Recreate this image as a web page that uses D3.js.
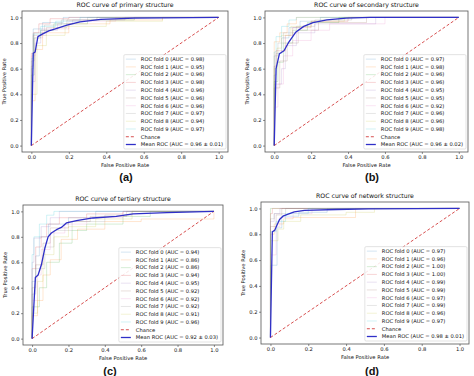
<!DOCTYPE html>
<html>
<head>
<meta charset="utf-8">
<script src="https://cdn.jsdelivr.net/npm/d3@7"></script>
<style>
body { margin: 0; background: #fff; }
text { font-family: "DejaVu Sans", sans-serif; fill: #111; }
</style>
</head>
<body>
<div class="chart"></div>
<script>

// Data
//
var titles = ["ROC curve of primary structure", "ROC curve of secondary structure",
              "ROC curve of tertiary structure", "ROC curve of network structure"];
var panelLabels = ["(a)", "(b)", "(c)", "(d)"];
var tickValues = [0, 0.2, 0.4, 0.6, 0.8, 1.0];
var foldColors = ["#1f77b4", "#ff7f0e", "#2ca02c", "#d62728", "#9467bd",
                  "#8c564b", "#e377c2", "#7f7f7f", "#bcbd22", "#17becf"];

var primaryAuc = ["0.98", "0.95", "0.96", "0.98", "0.96", "0.96", "0.96", "0.97", "0.94", "0.97"];
var secondaryAuc = ["0.97", "0.98", "0.96", "0.96", "0.95", "0.95", "0.92", "0.96", "0.96", "0.98"];
var tertiaryAuc = ["0.94", "0.86", "0.86", "0.94", "0.95", "0.92", "0.92", "0.92", "0.91", "0.96"];
var networkAuc = ["0.97", "0.96", "1.00", "1.00", "0.99", "0.99", "0.97", "0.99", "0.96", "0.97"];
var meanLabels = ["0.96 ± 0.01", "0.96 ± 0.02", "0.92 ± 0.03", "0.98 ± 0.01"];

// fold curves: [fpr, tpr] where tpr jumps (step curves)
var primaryFolds = [
  [[0,0],[0,0.6],[0.01,0.91],[0.06,0.96],[0.17,1],[1,1]],
  [[0,0],[0,0.35],[0.02,0.75],[0.06,0.88],[0.2,0.95],[0.42,0.98],[0.7,1],[1,1]],
  [[0,0],[0,0.55],[0.015,0.84],[0.05,0.9],[0.12,0.95],[0.3,0.98],[0.55,1],[1,1]],
  [[0,0],[0,0.72],[0.01,0.88],[0.04,0.95],[0.1,0.99],[0.2,1],[1,1]],
  [[0,0],[0,0.5],[0.02,0.8],[0.05,0.9],[0.14,0.95],[0.22,0.98],[0.5,1],[1,1]],
  [[0,0],[0,0.62],[0.01,0.86],[0.08,0.92],[0.19,0.98],[0.35,1],[1,1]],
  [[0,0],[0,0.7],[0.02,0.84],[0.06,0.91],[0.2,0.97],[0.45,1],[1,1]],
  [[0,0],[0,0.66],[0.015,0.88],[0.07,0.94],[0.16,0.98],[0.3,1],[1,1]],
  [[0,0],[0,0.4],[0.03,0.78],[0.08,0.86],[0.18,0.93],[0.4,0.97],[0.7,1],[1,1]],
  [[0,0],[0,0.68],[0.01,0.87],[0.05,0.93],[0.13,0.97],[0.26,1],[1,1]]
];
var secondaryFolds = [
  [[0,0],[0,0.55],[0.01,0.72],[0.04,0.84],[0.08,0.92],[0.14,0.97],[0.25,1],[1,1]],
  [[0,0],[0,0.81],[0.03,0.88],[0.07,0.95],[0.12,1],[1,1]],
  [[0,0],[0,0.5],[0.02,0.65],[0.05,0.8],[0.1,0.9],[0.18,0.96],[0.35,1],[1,1]],
  [[0,0],[0,0.62],[0.01,0.74],[0.06,0.86],[0.1,0.92],[0.2,0.97],[0.4,1],[1,1]],
  [[0,0],[0,0.48],[0.04,0.6],[0.06,0.78],[0.12,0.88],[0.22,0.95],[0.55,1],[1,1]],
  [[0,0],[0,0.45],[0.03,0.66],[0.07,0.8],[0.13,0.9],[0.24,0.96],[0.5,1],[1,1]],
  [[0,0],[0,0.3],[0.02,0.48],[0.05,0.7],[0.1,0.82],[0.2,0.9],[0.3,0.95],[0.6,1],[1,1]],
  [[0,0],[0,0.7],[0.02,0.8],[0.05,0.88],[0.12,0.93],[0.22,0.98],[0.42,1],[1,1]],
  [[0,0],[0,0.6],[0.015,0.76],[0.04,0.86],[0.09,0.93],[0.2,0.97],[0.38,1],[1,1]],
  [[0,0],[0,0.73],[0.01,0.85],[0.04,0.93],[0.08,0.98],[0.12,1],[1,1]]
];
var tertiaryFolds = [
  [[0,0],[0,0.45],[0.02,0.65],[0.04,0.8],[0.09,0.9],[0.2,0.95],[0.35,1],[1,1]],
  [[0,0],[0,0.18],[0.03,0.3],[0.06,0.5],[0.1,0.62],[0.16,0.78],[0.25,0.86],[0.4,0.92],[0.6,0.94],[1,1]],
  [[0,0],[0,0.25],[0.04,0.4],[0.08,0.6],[0.15,0.75],[0.22,0.85],[0.3,0.9],[0.5,0.96],[0.65,1],[1,1]],
  [[0,0],[0,0.55],[0.02,0.72],[0.05,0.8],[0.08,0.9],[0.15,0.95],[0.3,0.98],[0.5,1],[1,1]],
  [[0,0],[0,0.6],[0.01,0.79],[0.05,0.88],[0.1,0.95],[0.15,1],[1,1]],
  [[0,0],[0,0.4],[0.02,0.58],[0.06,0.75],[0.1,0.87],[0.2,0.92],[0.32,0.96],[0.52,1],[1,1]],
  [[0,0],[0,0.3],[0.03,0.5],[0.05,0.7],[0.1,0.83],[0.18,0.9],[0.3,0.95],[0.5,1],[1,1]],
  [[0,0],[0,0.35],[0.02,0.55],[0.07,0.72],[0.12,0.85],[0.22,0.92],[0.4,0.97],[0.55,1],[1,1]],
  [[0,0],[0,0.2],[0.03,0.45],[0.06,0.66],[0.12,0.8],[0.2,0.88],[0.35,0.94],[0.55,1],[1,1]],
  [[0,0],[0,0.66],[0.01,0.8],[0.04,0.9],[0.08,0.97],[0.12,1],[1,1]]
];
var networkFolds = [
  [[0,0],[0,0.56],[0.035,0.85],[0.06,0.94],[0.15,0.97],[0.3,1],[1,1]],
  [[0,0],[0,0.8],[0.02,0.88],[0.07,0.92],[0.12,0.93],[0.45,1],[1,1]],
  [[0,0],[0,1],[1,1]],
  [[0,0],[0,0.96],[0.01,1],[1,1]],
  [[0,0],[0,0.9],[0.02,0.96],[0.05,1],[1,1]],
  [[0,0],[0,0.86],[0.03,0.95],[0.06,1],[1,1]],
  [[0,0],[0,0.64],[0.03,0.86],[0.05,0.93],[0.12,0.96],[0.22,1],[1,1]],
  [[0,0],[0,0.92],[0.02,0.96],[0.08,1],[1,1]],
  [[0,0],[0,0.75],[0.04,0.84],[0.07,0.9],[0.16,0.95],[0.4,0.97],[0.55,1],[1,1]],
  [[0,0],[0,0.82],[0.03,0.9],[0.08,0.96],[0.2,1],[1,1]]
];

// mean ROC curves [fpr, tpr]
var primaryMean = [[0,0],[0.01,0.72],[0.02,0.73],[0.035,0.85],[0.058,0.87],[0.093,0.895],[0.128,0.91],
                   [0.19,0.94],[0.26,0.965],[0.37,0.985],[0.55,0.995],[1,1]];
var secondaryMean = [[0,0],[0.01,0.6],[0.028,0.716],[0.053,0.74],[0.08,0.81],[0.116,0.884],[0.16,0.93],
                     [0.21,0.96],[0.285,0.98],[0.39,0.995],[0.52,1],[1,1]];
var tertiaryMean = [[0,0],[0.018,0.48],[0.033,0.5],[0.051,0.58],[0.07,0.71],[0.088,0.8],[0.106,0.83],
                    [0.134,0.856],[0.161,0.874],[0.19,0.91],[0.244,0.927],[0.335,0.948],[0.463,0.96],
                    [0.555,0.98],[0.74,0.99],[1,1]];
var networkMean = [[0,0],[0.01,0.82],[0.022,0.83],[0.036,0.876],[0.048,0.915],[0.066,0.94],[0.09,0.954],
                   [0.126,0.974],[0.18,0.985],[0.35,0.992],[0.52,0.997],[1,1]];
var chance = [[0,0],[1,1]];

var foldSets = [primaryFolds, secondaryFolds, tertiaryFolds, networkFolds];
var aucSets = [primaryAuc, secondaryAuc, tertiaryAuc, networkAuc];
var meanSets = [primaryMean, secondaryMean, tertiaryMean, networkMean];

// Frames of each axes box, in pixels
var frames = [
  {left: 22, top: 11, right: 228, bottom: 152, labelX: 126, labelY: 181},
  {left: 265, top: 11, right: 468, bottom: 152, labelX: 372, labelY: 181},
  {left: 23, top: 205, right: 223, bottom: 345, labelX: 110, labelY: 375},
  {left: 261, top: 202, right: 469, bottom: 344, labelX: 372, labelY: 375}
];

var svg = d3.select(".chart")
  .append("svg")
  .attr("width", 474)
  .attr("height", 376);

frames.forEach(function(f, p) {

  var x = d3.scaleLinear().domain([-0.05, 1.05]).range([f.left, f.right]);
  var y = d3.scaleLinear().domain([-0.05, 1.05]).range([f.bottom, f.top]);

  var g = svg.append("g");

  var step = d3.line()
    .x(function(d) { return x(d[0]); })
    .y(function(d) { return y(d[1]); })
    .curve(d3.curveStepAfter);

  var line = d3.line()
    .x(function(d) { return x(d[0]); })
    .y(function(d) { return y(d[1]); });

  // fold curves
  g.selectAll(".fold")
    .data(foldSets[p])
    .enter().append("path")
    .attr("class", "fold")
    .attr("d", step)
    .attr("fill", "none")
    .attr("stroke", function(d, i) { return foldColors[i]; })
    .attr("stroke-opacity", 0.28)
    .attr("stroke-width", 0.7);

  // chance line
  g.append("path")
    .attr("d", line(chance))
    .attr("fill", "none")
    .attr("stroke", "#d23c3c")
    .attr("stroke-width", 0.9)
    .attr("stroke-dasharray", "3,2");

  // mean curve
  g.append("path")
    .attr("d", line(meanSets[p]))
    .attr("fill", "none")
    .attr("stroke", "#2f2fc8")
    .attr("stroke-width", 1.3)
    .attr("stroke-linejoin", "round");

  // frame
  g.append("rect")
    .attr("x", f.left).attr("y", f.top)
    .attr("width", f.right - f.left).attr("height", f.bottom - f.top)
    .attr("fill", "none")
    .attr("stroke", "#555")
    .attr("stroke-width", 0.8);

  // axes
  var xAxis = g.append("g")
    .attr("transform", "translate(0," + f.bottom + ")")
    .call(d3.axisBottom(x).tickValues(tickValues).tickSize(2).tickPadding(1.5).tickFormat(d3.format(".1f")));
  var yAxis = g.append("g")
    .attr("transform", "translate(" + f.left + ",0)")
    .call(d3.axisLeft(y).tickValues(tickValues).tickSize(2).tickPadding(1.5).tickFormat(d3.format(".1f")));
  [xAxis, yAxis].forEach(function(a) {
    a.select(".domain").remove();
    a.selectAll("line").attr("stroke", "#444").attr("stroke-width", 0.6);
    a.selectAll("text").attr("font-size", 5.2).attr("font-family", "DejaVu Sans").attr("fill", "#111");
  });

  // title and axis labels
  g.append("text")
    .attr("x", (f.left + f.right) / 2).attr("y", f.top - 4)
    .attr("text-anchor", "middle").attr("font-size", 6.2)
    .text(titles[p]);
  g.append("text")
    .attr("x", (f.left + f.right) / 2).attr("y", f.bottom + 15)
    .attr("text-anchor", "middle").attr("font-size", 5.2)
    .text("False Positive Rate");
  g.append("text")
    .attr("transform", "translate(" + (f.left - 16) + "," + ((f.top + f.bottom) / 2) + ") rotate(-90)")
    .attr("text-anchor", "middle").attr("font-size", 5.2)
    .text("True Positive Rate");

  // panel label
  svg.append("text")
    .attr("x", f.labelX).attr("y", f.labelY)
    .attr("text-anchor", "middle")
    .attr("font-weight", "bold")
    .attr("font-size", 11)
    .style("font-family", "'Liberation Sans', Arial, sans-serif")
    .style("fill", "#111")
    .text(panelLabels[p]);

  // legend
  var entries = aucSets[p].map(function(a, i) {
    return {label: "ROC fold " + i + " (AUC = " + a + ")", color: foldColors[i], kind: "fold"};
  });
  entries.push({label: "Chance", kind: "chance"});
  entries.push({label: "Mean ROC (AUC = " + meanLabels[p] + ")", kind: "mean"});

  var rowH = 7.76;
  var boxH = 9 + (entries.length - 1) * rowH;
  var leg = g.append("g");
  var box = leg.append("rect")
    .attr("fill", "#fff").attr("fill-opacity", 0.85)
    .attr("stroke", "#d0d0d0").attr("stroke-width", 0.6)
    .attr("rx", 1.2);

  var rows = leg.selectAll(".row")
    .data(entries)
    .enter().append("g")
    .attr("class", "row")
    .attr("transform", function(d, i) { return "translate(0," + (4.5 + i * rowH) + ")"; });

  rows.append("line")
    .attr("x1", 2).attr("x2", 12)
    .attr("stroke", function(d) {
      return d.kind == "fold" ? d.color : (d.kind == "chance" ? "#d23c3c" : "#2f2fc8");
    })
    .attr("stroke-opacity", function(d) { return d.kind == "fold" ? 0.28 : 1; })
    .attr("stroke-width", function(d) { return d.kind == "mean" ? 1.3 : (d.kind == "chance" ? 0.9 : 0.7); })
    .attr("stroke-dasharray", function(d) { return d.kind == "chance" ? "3,2" : null; });

  var labels = rows.append("text")
    .attr("x", 17).attr("dy", "0.35em")
    .attr("font-size", 5.2)
    .text(function(d) { return d.label; });

  var maxW = d3.max(labels.nodes(), function(n) { return n.getComputedTextLength(); });
  var boxW = 17 + maxW + 3;
  box.attr("width", boxW).attr("height", boxH);
  leg.attr("transform", "translate(" + (f.right - 2 - boxW) + "," + (f.bottom - 3 - boxH) + ")");
});

</script>
</body>
</html>
